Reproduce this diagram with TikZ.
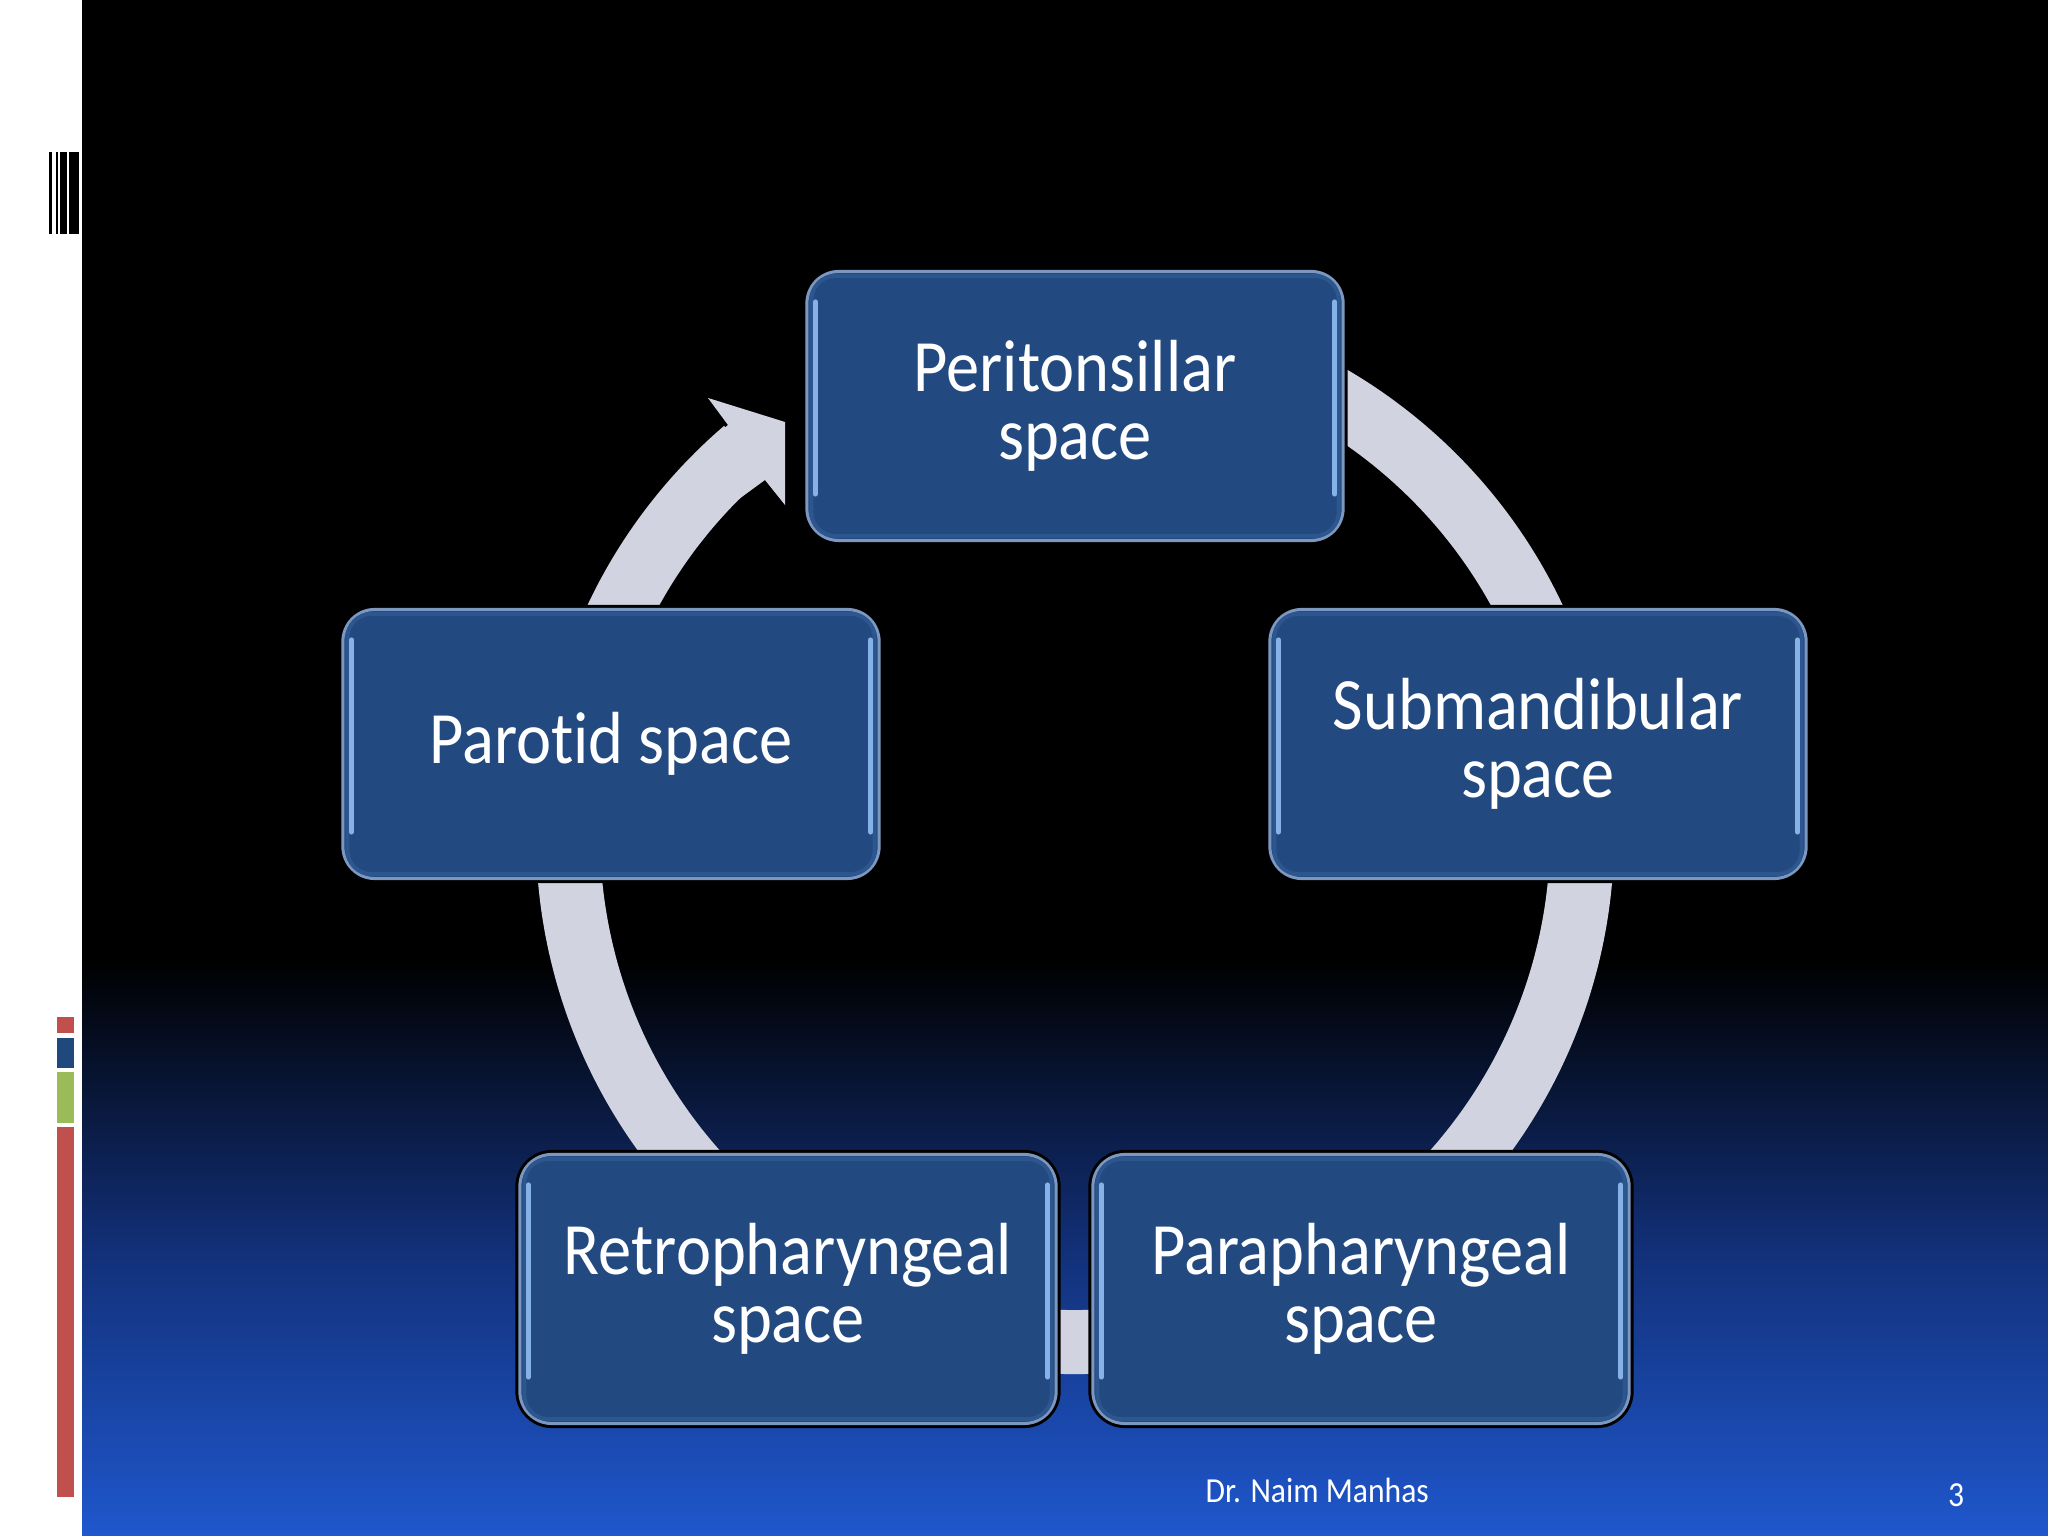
\documentclass[tikz,border=0pt]{standalone}
\usepackage{fontspec}
\setmainfont{Carlito}
\newfontfamily\boxfont{Carlito}[FakeStretch=0.9, Ligatures=NoCommon]
\definecolor{boxblue}{RGB}{34,74,128}
\definecolor{rimblue}{RGB}{125,152,192}
\definecolor{bevelblue}{RGB}{46,86,142}
\definecolor{glossblue}{RGB}{135,178,232}
\definecolor{ringgray}{RGB}{209,212,224}
\definecolor{bgblue}{RGB}{31,87,205}
\definecolor{midblue}{RGB}{18,48,120}
\definecolor{offred}{RGB}{192,80,77}
\definecolor{offblue}{RGB}{31,73,125}
\definecolor{offgreen}{RGB}{155,187,89}
\tikzset{
  spacebox/.style={rectangle, rounded corners=0.32cm, minimum width=5.36cm,
    minimum height=2.69cm, fill=boxblue, draw=rimblue, line width=0.03cm,
    preaction={draw=black, line width=0.09cm}, text=white, align=center,
    font=\boxfont\fontsize{21}{19.4}\selectfont, inner sep=0pt},
  bevelline/.style={draw=bevelblue, line width=0.04cm, rounded corners=0.24cm},
  glossline/.style={draw=glossblue, line width=0.05cm, line cap=round},
  footertext/.style={font=\boxfont\fontsize{10}{12}\selectfont, text=white, inner sep=0pt}
}
\begin{document}
\begin{tikzpicture}[x=0.01cm, y=0.01cm]
\useasboundingbox (0,0) rectangle (2048,1536);
% background
\fill[white] (0,0) rectangle (82,1536);
\fill[black] (82,0) rectangle (2048,1536);
\shade[top color=black, bottom color=bgblue, middle color=midblue] (82,0) rectangle (2048,576);
% barcode
\fill[black] (49.3,1302) rectangle (51.7,1384);
\fill[black] (55.7,1302) rectangle (58,1384);
\fill[black] (60,1302) rectangle (66.7,1384);
\fill[black] (68.7,1302) rectangle (79.3,1384);
% coloured side bars
\fill[offred] (57.3,503.3) rectangle (74,519.3);
\fill[offblue] (57.3,468.3) rectangle (74,498.3);
\fill[offgreen] (57.3,413.3) rectangle (74,463.7);
\fill[offred] (57.3,39.3) rectangle (74,409);
% cycle ring with its arrowhead
\coordinate (ringc) at (1075,701);
\draw[ringgray, line width=0.64cm] ([shift={(100:507)}]ringc) arc[start angle=100, end angle=-229.4, radius=507];
\fill[ringgray] (728,1111) -- (708,1138) -- (785,1114) -- (785,1031) -- (765,1056)
  -- (739,1037) -- (694,1082) -- cycle;
% nodes
\node[spacebox] (peri) at (1075,1130) {Peritonsillar\\space};
\node[spacebox] (sub) at (1538,792) {Submandibular\\space};
\node[spacebox] (para) at (1361,247) {Parapharyngeal\\space};
\node[spacebox] (retro) at (788,247) {Retropharyngeal\\space};
\node[spacebox] (parotid) at (611,792) {Parotid space};
\foreach \n in {peri,sub,para,retro,parotid}{
  \draw[bevelline] ([shift={(6,6)}]\n.south west) rectangle ([shift={(-6,-6)}]\n.north east);
  \draw[glossline] ([shift={(10,-32)}]\n.north west) -- ([shift={(10,48)}]\n.south west);
  \draw[glossline] ([shift={(-10,-32)}]\n.north east) -- ([shift={(-10,48)}]\n.south east);
}
% footer
\node[footertext, anchor=base west] (author) at (1205,34) {Dr. Naim Manhas};
\node[footertext, anchor=base] (pagenum) at (1956,30) {3};
\end{tikzpicture}
\end{document}
